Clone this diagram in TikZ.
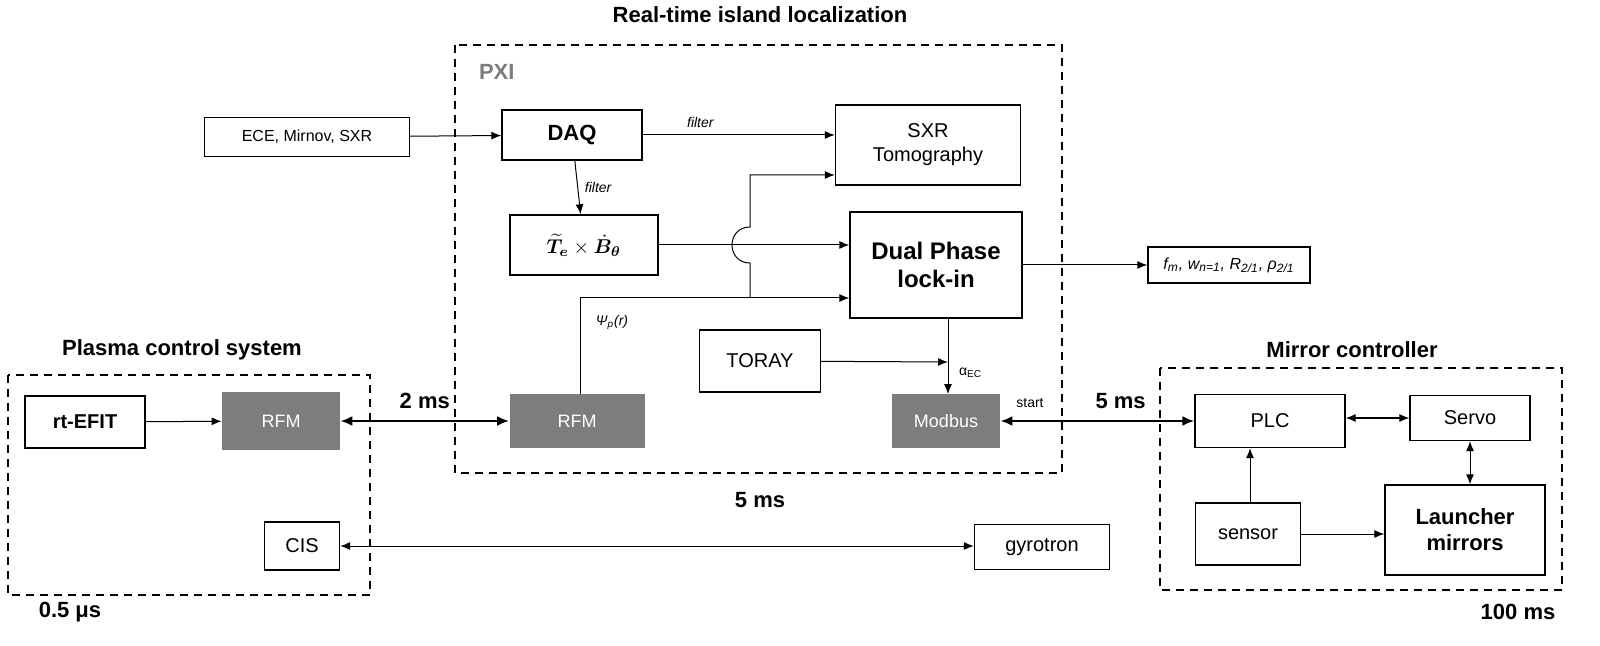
\documentclass[tikz,border=0pt]{standalone}
\usepackage{amsmath,bm}
\usepackage{fontspec}
\setmainfont{Liberation Sans}
\usetikzlibrary{arrows.meta,positioning}
\definecolor{BoxGray}{RGB}{125,125,125}
\tikzset{
  blk/.style={draw,line width=0.7pt,inner sep=0pt,align=center,font=\fontsize{10}{12}\selectfont},
  gblk/.style={fill=BoxGray,text=white,inner sep=0pt,font=\fontsize{9}{11}\selectfont},
  grp/.style={draw,dashed,line width=0.9pt,dash pattern=on 4pt off 3pt},
  lbl/.style={font=\bfseries\fontsize{11}{13}\selectfont},
  arr/.style={-{Latex[length=5pt,width=4pt]},line width=0.5pt},
  darr/.style={{Latex[length=5pt,width=4pt]}-{Latex[length=5pt,width=4pt]},line width=0.5pt},
  thick arr/.style={{Latex[length=6pt,width=5pt]}-{Latex[length=6pt,width=5pt]},line width=1.4pt},
  small/.style={font=\itshape\fontsize{7}{8}\selectfont}
}
\begin{document}
\begin{tikzpicture}[x=0.5pt,y=-0.5pt]
\useasboundingbox (0,0) rectangle (1600,646);

% groups
\draw[grp] (455,45) rectangle (1062,473);
\draw[grp] (8,375) rectangle (370,595);
\draw[grp] (1160,368) rectangle (1562,590);
\node[lbl] at (760,15) {Real-time island localization};
\node[lbl] at (760,500) {5 ms};
\node[font=\bfseries\fontsize{11}{13}\selectfont,text=BoxGray,anchor=west] at (472,72) {PXI};
\node[lbl] at (182,350) {Plasma control system};
\node[lbl] at (70,612) {0.5 μs};
\node[lbl] at (1352,350) {Mirror controller};
\node[lbl] at (1518,612) {100 ms};

% blocks
\node[blk,minimum width=102.5pt,minimum height=19.5pt,font=\fontsize{8}{10}\selectfont] (ece) at (307,137) {ECE, Mirnov, SXR};
\node[blk,minimum width=70pt,minimum height=25pt,font=\bfseries\fontsize{11}{13}\selectfont] (daq) at (572,135) {DAQ};
\node[blk,minimum width=92.5pt,minimum height=40pt] (sxr) at (928,145) {SXR\\Tomography};
\node[blk,minimum width=74pt,minimum height=30pt] (te) at (584,245) {$\widetilde{\bm{T}}_{\bm e}\times\dot{\bm{B}}_{\bm\theta}$};
\node[blk,minimum width=86pt,minimum height=53pt,font=\bfseries\fontsize{12}{14}\selectfont] (dual) at (936,265) {Dual Phase\\lock-in};
\node[blk,minimum width=81pt,minimum height=18pt,font=\itshape\fontsize{8}{10}\selectfont] (out) at (1229,265) {f\textsubscript{m}, w\textsubscript{n=1}, R\textsubscript{2/1}, ρ\textsubscript{2/1}};
\node[blk,minimum width=60.5pt,minimum height=31pt] (toray) at (760,361) {TORAY};
\node[gblk,minimum width=67.5pt,minimum height=26.5pt] (rfmb) at (577,421) {RFM};
\node[gblk,minimum width=54pt,minimum height=26.5pt] (modbus) at (946,421) {Modbus};
\node[gblk,minimum width=59pt,minimum height=28.5pt] (rfma) at (281,421) {RFM};
\node[blk,minimum width=60pt,minimum height=26pt,font=\bfseries\fontsize{10}{12}\selectfont] (efit) at (85,422) {rt-EFIT};
\node[blk,minimum width=37.5pt,minimum height=24pt] (cis) at (302,546) {CIS};
\node[blk,minimum width=67.5pt,minimum height=22.5pt] (gyro) at (1042,547) {gyrotron};
\node[blk,minimum width=75pt,minimum height=26.5pt] (plc) at (1270,421) {PLC};
\node[blk,minimum width=60pt,minimum height=22.5pt] (servo) at (1470,418) {Servo};
\node[blk,minimum width=52.5pt,minimum height=31pt] (sensor) at (1248,534) {sensor};
\node[blk,minimum width=80pt,minimum height=45pt,font=\bfseries\fontsize{11}{13}\selectfont] (launch) at (1465,530) {Launcher\\mirrors};

% connectors
\draw[arr] (ece) -- (daq);
\draw[arr] (daq) -- node[small,above,pos=0.3] {filter} (daq -| sxr.west);
\draw[arr] (daq) -- node[small,right] {filter} (te);
\draw[arr] (te) -- (te -| dual.west);
\coordinate (jt) at (750,298);
\draw[arr] (rfmb.north -| 580,0) -- (580,298) -- (dual.west |- jt);
\draw[arr] (jt) -- (750,263) .. controls (726,263) and (726,227) .. (750,227) -- (750,175) -- (sxr.west |- 0,175);
\node[small] at (612,322) {Ψ\textsubscript{p}(r)};
\draw[arr] (dual) -- (out);
\coordinate (mj) at (948,362);
\draw[arr] (toray) -- (mj);
\draw[arr] (dual.south -| mj) -- (mj |- modbus.north);
\node[font=\fontsize{7}{8}\selectfont,anchor=west] at (952,373) {α\textsubscript{EC}};
\draw[arr] (efit) -- (rfma);
\draw[thick arr] (rfma) -- node[lbl,above=2pt] {2 ms} (rfmb);
\draw[thick arr] (modbus) -- node[lbl,above=2pt,pos=0.62] {5 ms} (plc);
\node[font=\fontsize{7}{8}\selectfont] at (1030,403) {start};
\draw[darr] (plc.east |- servo) -- (servo);
\draw[darr] (servo) -- (servo |- launch.north);
\draw[arr] (sensor.north -| 1250,0) -- (plc.south -| 1250,0);
\draw[arr] (sensor) -- (sensor -| launch.west);
\draw[darr] (cis) -- (cis -| gyro.west);
\end{tikzpicture}
\end{document}
